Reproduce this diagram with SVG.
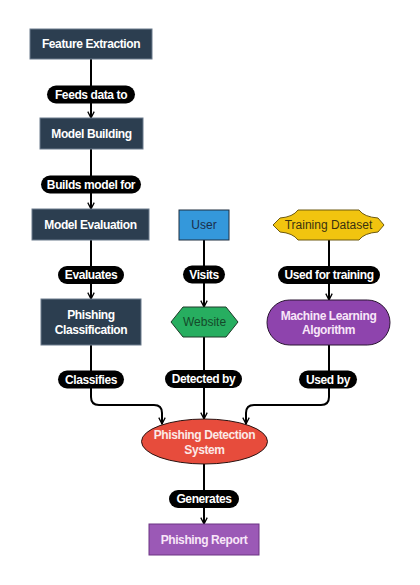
<svg xmlns="http://www.w3.org/2000/svg" width="420" height="585" viewBox="0 0 420 585">
<defs>
<marker id="arr" viewBox="0 0 10 10" refX="9" refY="5" markerWidth="8" markerHeight="8" markerUnits="userSpaceOnUse" orient="auto">
<path d="M1,1 L9,5 L1,9" fill="none" stroke="#000" stroke-width="1.6"/>
</marker>
<style>
.edge{fill:none;stroke:#000;stroke-width:2;marker-end:url(#arr)}
.pill{fill:#000}
.lbl{font-family:"Liberation Sans",Arial,sans-serif;font-size:12px;letter-spacing:-0.4px;font-weight:bold;fill:#fff;text-anchor:middle;dominant-baseline:central}
.dark{fill:#2C3E50;stroke:#6B7B8C;stroke-width:1}
.bt{font-family:"Liberation Sans",Arial,sans-serif;font-size:12px;letter-spacing:-0.4px;font-weight:bold;text-anchor:middle;dominant-baseline:central}
.rt{font-family:"Liberation Sans",Arial,sans-serif;font-size:12px;text-anchor:middle;dominant-baseline:central}
</style>
</defs>
<rect width="420" height="585" fill="#fff"/>
<g id="connectors">
<path class="edge" d="M91,59 L91,118"/>
<path class="edge" d="M91,149 L91,209"/>
<path class="edge" d="M91,240 L91,299"/>
<path class="edge" d="M91,345 L91,397 Q91,405 99,405 L154,405 Q162,405 162,413 L162,424"/>
<path class="edge" d="M204,240 L204,307"/>
<path class="edge" d="M204,337 L204,419"/>
<path class="edge" d="M329,240 L329,300"/>
<path class="edge" d="M329,345 L329,397 Q329,405 321,405 L254,405 Q246,405 246,413 L246,424"/>
<path class="edge" d="M204,464 L204,524"/>
<g id="edge-labels">
<rect class="pill" x="47" y="85.5" width="88" height="18" rx="9"/><text class="lbl" x="91" y="94.5">Feeds data to</text>
<rect class="pill" x="41" y="175.5" width="100" height="18" rx="9"/><text class="lbl" x="91" y="184.5">Builds model for</text>
<rect class="pill" x="58" y="266" width="66" height="18" rx="9"/><text class="lbl" x="91" y="275">Evaluates</text>
<rect class="pill" x="58" y="370.5" width="66" height="18" rx="9"/><text class="lbl" x="91" y="379.5">Classifies</text>
<rect class="pill" x="183" y="265.5" width="42" height="18" rx="9"/><text class="lbl" x="204" y="274.5">Visits</text>
<rect class="pill" x="165" y="370" width="77" height="18" rx="9"/><text class="lbl" x="203.5" y="379">Detected by</text>
<rect class="pill" x="278" y="266" width="102" height="18" rx="9"/><text class="lbl" x="329" y="275">Used for training</text>
<rect class="pill" x="299" y="370.5" width="58" height="18" rx="9"/><text class="lbl" x="328" y="379.5">Used by</text>
<rect class="pill" x="169" y="490" width="70" height="18" rx="9"/><text class="lbl" x="204" y="499">Generates</text>
</g>
</g>
<g id="feature-extraction">
<rect class="dark" x="30" y="29" width="122" height="30"/>
<text class="bt" x="91" y="44" fill="#fff">Feature Extraction</text>
</g>
<g id="model-building">
<rect class="dark" x="40" y="118" width="103" height="31"/>
<text class="bt" x="91.5" y="133.5" fill="#fff">Model Building</text>
</g>
<g id="model-evaluation">
<rect class="dark" x="32" y="209" width="117" height="31"/>
<text class="bt" x="90.5" y="224.5" fill="#fff">Model Evaluation</text>
</g>
<g id="phishing-classification">
<rect class="dark" x="41" y="299" width="100" height="46"/>
<text class="bt" x="91" y="314.5" fill="#fff">Phishing</text>
<text class="bt" x="91" y="329.5" fill="#fff">Classification</text>
</g>
<g id="user">
<rect x="179" y="210" width="50" height="30" fill="#3498DB" stroke="#1F2F40" stroke-width="1"/>
<text class="rt" x="204" y="225" fill="#1B2E4A">User</text>
</g>
<g id="website">
<polygon points="171,322 183,307 226,307 238,322 226,337 183,337" fill="#27AE60" stroke="#1E3A28" stroke-width="1"/>
<text class="rt" x="204.5" y="322" fill="#154A2A">Website</text>
</g>
<g id="training-dataset">
<path d="M298,210 L359,210 Q364,217 378,218 L384,225 L378,232 Q364,233 359,240 L298,240 Q293,233 280,232 L273,225 L280,218 Q293,217 298,210 Z" fill="#F1C40F" stroke="#6E5A10" stroke-width="1"/>
<text class="rt" x="328.5" y="225" fill="#3A3210">Training Dataset</text>
</g>
<g id="ml-algorithm">
<rect x="267" y="300" width="123" height="45" rx="22.5" fill="#8E44AD" stroke="#2A1533" stroke-width="1"/>
<text class="bt" x="328.5" y="315.5" fill="#F8E6F8">Machine Learning</text>
<text class="bt" x="328.5" y="329.5" fill="#F8E6F8">Algorithm</text>
</g>
<g id="phishing-detection-system">
<ellipse cx="204.5" cy="441.5" rx="63" ry="22.5" fill="#E74C3C" stroke="#2A1210" stroke-width="1"/>
<text class="bt" x="204.5" y="435" fill="#FBE9E7">Phishing Detection</text>
<text class="bt" x="204.5" y="450" fill="#FBE9E7">System</text>
</g>
<g id="phishing-report">
<rect x="149" y="524" width="110" height="31" fill="#9B59B6" stroke="#6C3483" stroke-width="1"/>
<text class="bt" x="204" y="539.5" fill="#F8E6F8">Phishing Report</text>
</g>
</svg>
